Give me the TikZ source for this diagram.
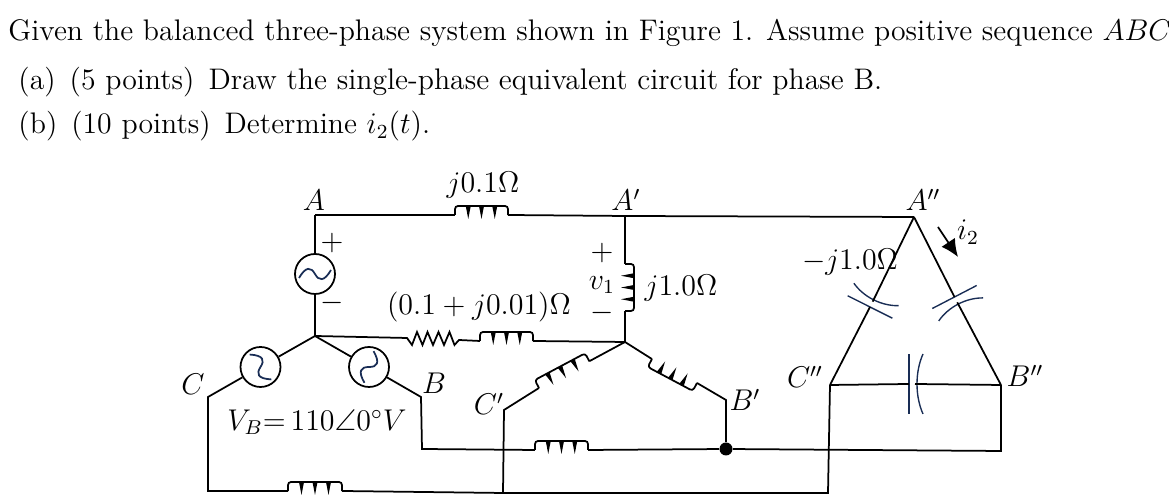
\documentclass[tikz,border=0pt]{standalone}
\usepackage{amsmath, amssymb}
\usetikzlibrary{calc, arrows.meta}
\definecolor{navy}{RGB}{25,45,85}
\tikzset{wire/.style={line width=0.7pt}, plate/.style={navy, line width=0.55pt}, lab/.style={font=\large, inner sep=0pt}, headline/.style={font=\fontsize{11.9}{14}\selectfont, inner sep=0pt, anchor=base west}, srcnode/.style={circle, draw, line width=0.7pt, minimum size=16pt, inner sep=0pt}, dotnode/.style={circle, fill=black, minimum size=5.2pt, inner sep=0pt}}
\newcommand\coilblock[4]{\begin{scope}[shift={(#2)},rotate=#3]\coordinate (#1a) at (0,0);\coordinate (#1b) at (#4,0);\draw[wire, rounded corners=1.2pt] (0,0) -- (0,9) -- (#4,9) -- (#4,0);\foreach \t in {0.25,0.5,0.75} {\fill ($(\t*#4,9)+(-2.5,0)$) -- ($(\t*#4,9)+(2.5,0)$) -- ($(\t*#4,-4)$) -- cycle;}\end{scope}}
\newcommand\capblock[4]{\begin{scope}[shift={(#2)},rotate=#3]\coordinate (#1a) at (0,0);\coordinate (#1b) at (6,0);\draw[plate] (0,-#4) -- (0,#4);\draw[plate] (14,-#4) .. controls (6,-#4*0.4) and (6,#4*0.4) .. (14,#4);\end{scope}}
\newcommand\sinesym[2]{\begin{scope}[shift={(#1)},rotate=#2]\draw[plate, line width=0.7pt] (-16,-4) .. controls (-9,8) and (-4,7) .. (0,0) .. controls (4,-7) and (9,-8) .. (16,4);\end{scope}}

\begin{document}
\begin{tikzpicture}[x=0.4pt,y=0.4pt]
\useasboundingbox (0,0) rectangle (1169,504);
\node[headline] (line1) at (8,463) {Given the balanced three-phase system shown in Figure 1. Assume positive sequence $ABC$};
\node[headline] (line2) at (18,414) {(a)\hspace{5.6pt}(5 points)\hspace{5.6pt}Draw the single-phase equivalent circuit for phase B.};
\node[headline] (line3) at (18,370) {(b)\hspace{5.6pt}(10 points)\hspace{5.6pt}Determine $i_2(t)$.};

\coordinate (A) at (315,289);
\coordinate (Ap) at (625,288);
\coordinate (App) at (914,287);
\coordinate (N) at (315,168);
\coordinate (Np) at (625,162);
\coordinate (C) at (208,107);
\coordinate (Cb) at (208,13);
\coordinate (B) at (421,107);
\coordinate (Bb) at (422,55);
\coordinate (Cq) at (504,94);
\coordinate (Cj) at (503,11);
\coordinate (Bq) at (726,104);
\coordinate (Cpp) at (830,119);
\coordinate (Cc) at (828,11);
\coordinate (Bpp) at (1001,119);
\coordinate (Bc) at (1001,53);
\coordinate (Ra) at (407,166);
\coordinate (Rb) at (459,164);
\coordinate (ia) at (938,277);
\coordinate (ib) at (958,247);

\node[srcnode] (Sa) at (315,230) {};
\node[srcnode] (Sb) at (369,137) {};
\node[srcnode] (Sc) at (260.5,137) {};
\node[dotnode] (D) at (726,55) {};
\sinesym{Sa}{0}
\sinesym{Sb}{60}
\sinesym{Sc}{-63}

\coilblock{La}{455,289}{0}{53}
\coilblock{Ln}{480,163}{0}{53}
\coilblock{Lv}{625,240}{-90}{47}
\coilblock{Lc}{539,116}{28}{57}
\coilblock{Lq}{697,121}{152}{51}
\coilblock{Lb}{535,54}{0}{53}
\coilblock{Ld}{288,13}{0}{54}

\capblock{Cx}{870,197}{63.4}{25}
\capblock{Cy}{954.5,207}{-62.6}{25}
\capblock{Cz}{909,120}{0}{30}

\draw[wire] (A) -- (Laa);
\draw[wire] (Lab) -- (Ap) -- (App);
\draw[wire] (A) -- (Sa);
\draw[wire] (Sa) -- (N);
\draw[wire] (N) -- (Sb);
\draw[wire] (N) -- (Sc);
\draw[wire] (Sb) -- (B) -- (Bb) -- (Lba);
\draw[wire] (Sc) -- (C) -- (Cb) -- (Lda);
\draw[wire] (Ldb) -- (Cj) -- (Cc) -- (Cpp);
\draw[wire] (Lbb) -- (D) -- (Bc) -- (Bpp);
\draw[wire] (N) -- (Ra) -- ++(5,-7) -- ++(5,13) -- ++(5.5,-13) -- ++(5,13) -- ++(5.5,-13) -- ++(5.5,13) -- ++(5.5,-13) -- ++(5.5,13) -- ++(5,-13) -- (Rb) -- (Lna);
\draw[wire] (Lnb) -- (Np);
\draw[wire] (Ap) -- (Lva);
\draw[wire] (Lvb) -- (Np);
\draw[wire] (Np) -- (Lcb);
\draw[wire] (Lca) -- (Cq) -- (Cj);
\draw[wire] (Np) -- (Lqb);
\draw[wire] (Lqa) -- (Bq) -- (D);
\draw[wire] (App) -- (Cxb);
\draw[wire] (Cxa) -- (Cpp);
\draw[wire] (App) -- (Cya);
\draw[wire] (Cyb) -- (Bpp);
\draw[wire] (Cpp) -- (Cza);
\draw[wire] (Czb) -- (Bpp);
\draw[wire, -{Latex[length=7pt,width=6.5pt]}] (ia) -- (ib);

\node[lab] (tA) at (314,304) {$A$};
\node[lab] (tAp) at (626,304) {$A'$};
\node[lab] (tApp) at (923,304) {$A''$};
\node[lab] (tLa) at (483,319) {$j0.1\Omega$};
\node[lab] (tp1) at (332,261) {$+$};
\node[lab] (tm1) at (332,201) {$-$};
\node[lab] (tLn) at (479,197) {$(0.1+j0.01)\Omega$};
\node[lab] (tp2) at (602,251) {$+$};
\node[lab] (tv) at (602,219) {$v_1$};
\node[lab] (tm2) at (602,191) {$-$};
\node[lab] (tLv) at (681,216) {$j1.0\Omega$};
\node[lab] (tCx) at (850,242) {${-}j1.0\Omega$};
\node[lab] (ti) at (968,272) {$i_2$};
\node[lab] (tC) at (193,120) {$C$};
\node[lab] (tB) at (434,121) {$B$};
\node[lab] (tCq) at (489,100) {$C'$};
\node[lab] (tBq) at (745,104) {$B'$};
\node[lab] (tCpp) at (805,127) {$C''$};
\node[lab] (tBpp) at (1025,128) {$B''$};
\node[lab] (tV) at (317,82) {$V_B{=}\,110\angle 0^\circ V$};
\end{tikzpicture}
\end{document}
